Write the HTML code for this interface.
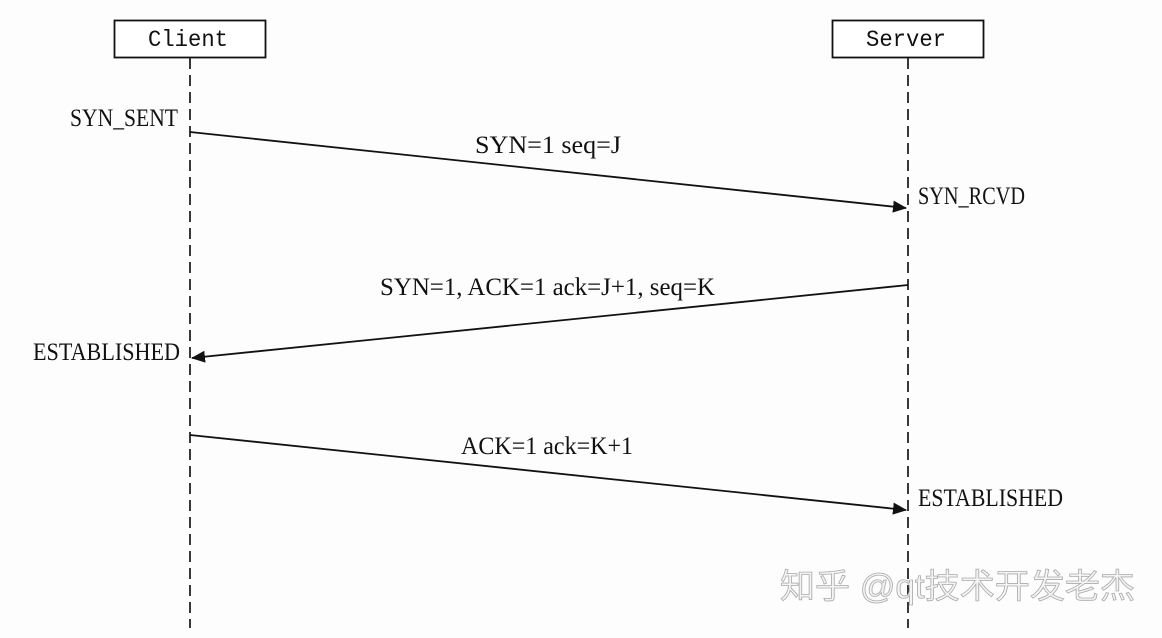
<!DOCTYPE html>
<html><head><meta charset="utf-8"><style>
html,body{margin:0;padding:0;background:#fdfdfe;}
svg{display:block}
.t{font-family:"Liberation Serif",serif;font-size:25px;fill:#111;}
.m{font-family:"Liberation Mono",monospace;font-size:23px;fill:#111;}
.w{font-family:"Liberation Sans","Noto Sans CJK SC",sans-serif;font-size:34px;fill:#f4f4f6;stroke:#aaa;stroke-width:0.8px;}
</style></head><body>
<svg width="1162" height="638" viewBox="0 0 1162 638" xmlns="http://www.w3.org/2000/svg">
<rect width="1162" height="638" fill="#fdfdfe"/>
<rect x="114.5" y="20.5" width="151" height="37" fill="#fff" stroke="#111" stroke-width="1.8"/>
<rect x="832.5" y="20.5" width="151" height="37" fill="#fff" stroke="#111" stroke-width="1.8"/>
<text class="m" x="148" y="46" textLength="80" lengthAdjust="spacingAndGlyphs">Client</text>
<text class="m" x="866" y="46" textLength="80" lengthAdjust="spacingAndGlyphs">Server</text>
<line x1="190" y1="58" x2="190" y2="628" stroke="#222" stroke-width="1.8" stroke-dasharray="11,6"/>
<line x1="908" y1="58" x2="908" y2="628" stroke="#222" stroke-width="1.8" stroke-dasharray="11,6"/>
<defs><marker id="a" markerWidth="14" markerHeight="12" refX="13" refY="6" orient="auto" markerUnits="userSpaceOnUse"><path d="M0,0 L14,6 L0,12 z" fill="#111"/></marker></defs>
<line x1="190" y1="132" x2="906" y2="208" stroke="#111" stroke-width="1.8" marker-end="url(#a)"/>
<line x1="908" y1="285" x2="192" y2="358" stroke="#111" stroke-width="1.8" marker-end="url(#a)"/>
<line x1="190" y1="435" x2="906" y2="510" stroke="#111" stroke-width="1.8" marker-end="url(#a)"/>
<text class="t" x="70" y="126" textLength="108" lengthAdjust="spacingAndGlyphs">SYN_SENT</text>
<text class="t" x="475" y="153" textLength="146" lengthAdjust="spacingAndGlyphs">SYN=1  seq=J</text>
<text class="t" x="918" y="204" textLength="107" lengthAdjust="spacingAndGlyphs">SYN_RCVD</text>
<text class="t" x="380" y="295" textLength="335" lengthAdjust="spacingAndGlyphs">SYN=1, ACK=1  ack=J+1, seq=K</text>
<text class="t" x="33" y="360" textLength="147" lengthAdjust="spacingAndGlyphs">ESTABLISHED</text>
<text class="t" x="461" y="454" textLength="172" lengthAdjust="spacingAndGlyphs">ACK=1  ack=K+1</text>
<text class="t" x="918" y="506" textLength="145" lengthAdjust="spacingAndGlyphs">ESTABLISHED</text>
<text class="w" x="780" y="598" textLength="355" lengthAdjust="spacingAndGlyphs">知乎 @qt技术开发老杰</text>
</svg>
</body></html>
